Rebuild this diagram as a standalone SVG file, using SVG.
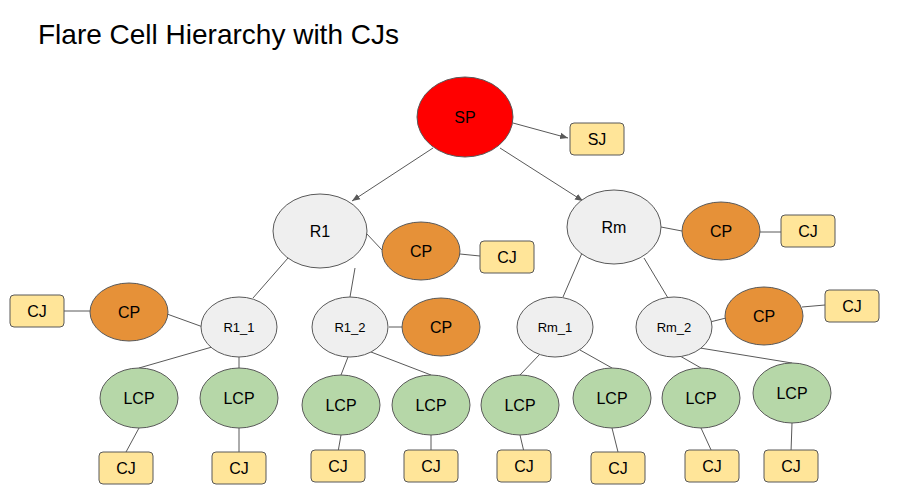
<svg xmlns="http://www.w3.org/2000/svg" width="905" height="497" viewBox="0 0 905 497">
<defs>
<style>
text{font-family:"Liberation Sans",Arial,sans-serif;text-anchor:middle;dominant-baseline:central;fill:#000}
.e{stroke:#595959;stroke-width:1}
.gray{fill:#efefef}.red{fill:#ff0000}.cp{fill:#e69138}.lcp{fill:#b6d7a8}
.cj{fill:#ffe599;stroke:#595959;stroke-width:1}
.c line{stroke:#595959;stroke-width:1}
.t{font-size:16px}.s{font-size:13px}
</style>
<marker id="a" viewBox="0 0 10 10" refX="10" refY="5" markerWidth="8" markerHeight="8" orient="auto"><path d="M0,1 L10,5 L0,9 z" fill="#595959"/></marker>
</defs>
<rect width="905" height="497" fill="#fff"/>
<text x="38" y="34" style="text-anchor:start;font-size:28px">Flare Cell Hierarchy with CJs</text>
<g class="c" id="connectors">
<line x1="513" y1="123" x2="568" y2="138" marker-end="url(#a)"/>
<line x1="433" y1="148" x2="352" y2="201" marker-end="url(#a)"/>
<line x1="500" y1="148" x2="583" y2="201" marker-end="url(#a)"/>
<line x1="366" y1="233" x2="382" y2="250"/>
<line x1="460" y1="254" x2="480" y2="256"/>
<line x1="661" y1="227" x2="682" y2="231"/>
<line x1="760" y1="232" x2="781" y2="232"/>
<line x1="288" y1="258" x2="253" y2="298"/>
<line x1="355" y1="268" x2="350" y2="297"/>
<line x1="582" y1="253" x2="563" y2="297"/>
<line x1="644" y1="258" x2="668" y2="298"/>
<line x1="64" y1="311" x2="90" y2="311"/>
<line x1="167" y1="314" x2="203" y2="327"/>
<line x1="389" y1="327" x2="402" y2="327"/>
<line x1="710" y1="322" x2="726" y2="318"/>
<line x1="802" y1="307" x2="825" y2="305"/>
<line x1="212" y1="347" x2="139" y2="368"/>
<line x1="239" y1="357" x2="239" y2="368"/>
<line x1="348" y1="357" x2="341" y2="375"/>
<line x1="371" y1="352" x2="431" y2="375"/>
<line x1="540" y1="354" x2="520" y2="375"/>
<line x1="580" y1="350" x2="612" y2="368"/>
<line x1="680" y1="356" x2="701" y2="368"/>
<line x1="700" y1="348" x2="792" y2="363"/>
<line x1="139" y1="428" x2="126" y2="452"/>
<line x1="239" y1="428" x2="239" y2="452"/>
<line x1="341" y1="435" x2="338" y2="452"/>
<line x1="431" y1="435" x2="431" y2="452"/>
<line x1="520" y1="435" x2="524" y2="452"/>
<line x1="612" y1="428" x2="618" y2="452"/>
<line x1="701" y1="428" x2="712" y2="452"/>
<line x1="792" y1="423" x2="791" y2="452"/>
</g>
<g id="SP"><ellipse class="e red" cx="465" cy="117" rx="48" ry="40"/><text class="t" x="465" y="117">SP</text></g>
<g id="SJ"><rect class="cj" x="570" y="123" width="54" height="32" rx="4"/><text class="t" x="597" y="139">SJ</text></g>
<g id="R1"><ellipse class="e gray" cx="320" cy="231" rx="47" ry="37"/><text class="t" x="320" y="231">R1</text></g>
<g id="Rm"><ellipse class="e gray" cx="614" cy="227" rx="47" ry="37"/><text class="t" x="614" y="227">Rm</text></g>
<g id="CP_R1"><ellipse class="e cp" cx="421" cy="251" rx="39" ry="29"/><text class="t" x="421" y="251">CP</text></g>
<g id="CJ_R1"><rect class="cj" x="480" y="241" width="54" height="32" rx="4"/><text class="t" x="507" y="257">CJ</text></g>
<g id="CP_Rm"><ellipse class="e cp" cx="721" cy="231" rx="39" ry="29"/><text class="t" x="721" y="231">CP</text></g>
<g id="CJ_Rm"><rect class="cj" x="781" y="215" width="54" height="32" rx="4"/><text class="t" x="808" y="231">CJ</text></g>
<g id="R1_1"><ellipse class="e gray" cx="239" cy="327" rx="38" ry="30"/><text class="s" x="239" y="327">R1_1</text></g>
<g id="R1_2"><ellipse class="e gray" cx="350" cy="327" rx="38" ry="30"/><text class="s" x="350" y="327">R1_2</text></g>
<g id="Rm_1"><ellipse class="e gray" cx="555" cy="327" rx="38" ry="30"/><text class="s" x="555" y="327">Rm_1</text></g>
<g id="Rm_2"><ellipse class="e gray" cx="674" cy="327" rx="38" ry="30"/><text class="s" x="674" y="327">Rm_2</text></g>
<g id="CP_R1_1"><ellipse class="e cp" cx="129" cy="312" rx="39" ry="29"/><text class="t" x="129" y="312">CP</text></g>
<g id="CJ_R1_1"><rect class="cj" x="10" y="295" width="54" height="32" rx="4"/><text class="t" x="37" y="311">CJ</text></g>
<g id="CP_R1_2"><ellipse class="e cp" cx="441" cy="327" rx="39" ry="29"/><text class="t" x="441" y="327">CP</text></g>
<g id="CP_Rm_2"><ellipse class="e cp" cx="764" cy="316" rx="39" ry="29"/><text class="t" x="764" y="316">CP</text></g>
<g id="CJ_Rm_2"><rect class="cj" x="825" y="290" width="54" height="32" rx="4"/><text class="t" x="852" y="306">CJ</text></g>
<g id="LCP1"><ellipse class="e lcp" cx="139" cy="398" rx="39" ry="30"/><text class="t" x="139" y="398">LCP</text></g>
<g id="LCP2"><ellipse class="e lcp" cx="239" cy="398" rx="39" ry="30"/><text class="t" x="239" y="398">LCP</text></g>
<g id="LCP3"><ellipse class="e lcp" cx="341" cy="405" rx="39" ry="30"/><text class="t" x="341" y="405">LCP</text></g>
<g id="LCP4"><ellipse class="e lcp" cx="431" cy="405" rx="39" ry="30"/><text class="t" x="431" y="405">LCP</text></g>
<g id="LCP5"><ellipse class="e lcp" cx="520" cy="405" rx="39" ry="30"/><text class="t" x="520" y="405">LCP</text></g>
<g id="LCP6"><ellipse class="e lcp" cx="612" cy="398" rx="39" ry="30"/><text class="t" x="612" y="398">LCP</text></g>
<g id="LCP7"><ellipse class="e lcp" cx="701" cy="398" rx="39" ry="30"/><text class="t" x="701" y="398">LCP</text></g>
<g id="LCP8"><ellipse class="e lcp" cx="792" cy="393" rx="39" ry="30"/><text class="t" x="792" y="393">LCP</text></g>
<g id="CJ1"><rect class="cj" x="99" y="452" width="54" height="32" rx="4"/><text class="t" x="126" y="468">CJ</text></g>
<g id="CJ2"><rect class="cj" x="212" y="452" width="54" height="32" rx="4"/><text class="t" x="239" y="468">CJ</text></g>
<g id="CJ3"><rect class="cj" x="311" y="450" width="54" height="32" rx="4"/><text class="t" x="338" y="466">CJ</text></g>
<g id="CJ4"><rect class="cj" x="404" y="450" width="54" height="32" rx="4"/><text class="t" x="431" y="466">CJ</text></g>
<g id="CJ5"><rect class="cj" x="497" y="450" width="54" height="32" rx="4"/><text class="t" x="524" y="466">CJ</text></g>
<g id="CJ6"><rect class="cj" x="591" y="452" width="54" height="32" rx="4"/><text class="t" x="618" y="468">CJ</text></g>
<g id="CJ7"><rect class="cj" x="685" y="450" width="54" height="32" rx="4"/><text class="t" x="712" y="466">CJ</text></g>
<g id="CJ8"><rect class="cj" x="764" y="450" width="54" height="32" rx="4"/><text class="t" x="791" y="466">CJ</text></g>
</svg>
